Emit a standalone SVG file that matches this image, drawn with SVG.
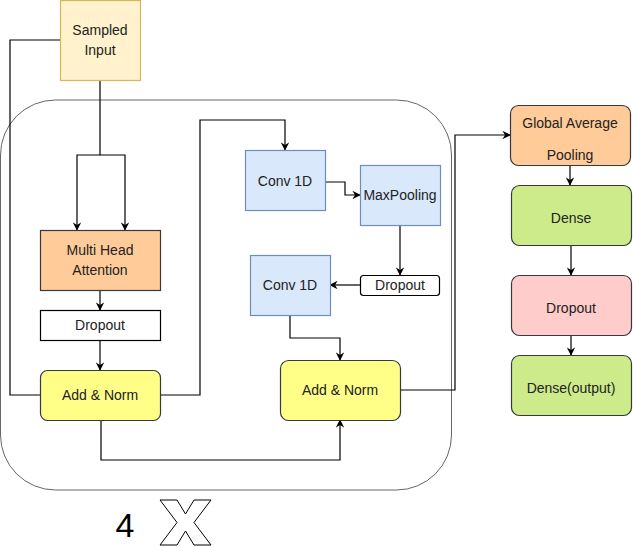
<svg xmlns="http://www.w3.org/2000/svg" width="633" height="547" viewBox="0 0 633 547">
<style>
text{font-family:"Liberation Sans",Arial,sans-serif;font-size:14px;fill:#222;text-anchor:middle;dominant-baseline:central}
.c{fill:none;stroke:#000;stroke-width:1.2}
.n{stroke-width:1.2}
</style>
<defs><marker id="a" viewBox="0 0 10 10" refX="9" refY="5" markerWidth="7" markerHeight="7" orient="auto"><path d="M0,0 L10,5 L0,10 L3,5 z" fill="#000"/></marker></defs>
<rect x="0.5" y="100" width="451" height="390" rx="55" fill="none" stroke="#666"/>
<g id="connectors">
<path class="c" d="M100,80 V155 H77 V230" marker-end="url(#a)"/>
<path class="c" d="M100,155 H125 V230" marker-end="url(#a)"/>
<path class="c" d="M60,40 H10 V395 H40"/>
<path class="c" d="M100,290 V310" marker-end="url(#a)"/>
<path class="c" d="M100,340 V370" marker-end="url(#a)"/>
<path class="c" d="M160,395 H200 V120 H285 V150" marker-end="url(#a)"/>
<path class="c" d="M101,420 V460 H340 V420" marker-end="url(#a)"/>
<path class="c" d="M325,182 H345 V195 H360" marker-end="url(#a)"/>
<path class="c" d="M400,225 V275" marker-end="url(#a)"/>
<path class="c" d="M360,285 H330" marker-end="url(#a)"/>
<path class="c" d="M290,315 V338 H340 V360" marker-end="url(#a)"/>
<path class="c" d="M400,390 H455 V135 H510" marker-end="url(#a)"/>
<path class="c" d="M570,165 V185" marker-end="url(#a)"/>
<path class="c" d="M571,245 V275" marker-end="url(#a)"/>
<path class="c" d="M571,335 V355" marker-end="url(#a)"/>
</g>
<g id="input"><rect class="n" x="60.5" y="0.5" width="80" height="80" fill="#fff2cc" stroke="#d6b656"/><text x="100" y="30">Sampled</text><text x="100" y="50">Input</text></g>
<g id="mha"><rect class="n" x="40.5" y="230.5" width="120" height="60" fill="#ffcc99" stroke="#36393d"/><text x="100" y="250">Multi Head</text><text x="100" y="270">Attention</text></g>
<g id="dropout1"><rect class="n" x="40.5" y="310.5" width="120" height="30" fill="#fff" stroke="#000"/><text x="100" y="325">Dropout</text></g>
<g id="addnorm1"><rect class="n" x="40.5" y="370.5" width="120" height="50" rx="7" fill="#ffff88" stroke="#36393d"/><text x="100" y="395">Add &amp; Norm</text></g>
<g id="conv1"><rect class="n" x="245.5" y="150.5" width="80" height="60" fill="#dae8fc" stroke="#6c8ebf"/><text x="285" y="181">Conv 1D</text></g>
<g id="maxpool"><rect class="n" x="360.5" y="165.5" width="80" height="60" fill="#dae8fc" stroke="#6c8ebf"/><text x="400" y="195">MaxPooling</text></g>
<g id="dropout2"><rect class="n" x="360.5" y="275.5" width="79" height="20" rx="3" fill="#fff" stroke="#000"/><text x="400" y="285">Dropout</text></g>
<g id="conv2"><rect class="n" x="250.5" y="255.5" width="80" height="60" fill="#dae8fc" stroke="#6c8ebf"/><text x="290" y="285">Conv 1D</text></g>
<g id="addnorm2"><rect class="n" x="280.5" y="360.5" width="120" height="60" rx="8" fill="#ffff88" stroke="#36393d"/><text x="340" y="390">Add &amp; Norm</text></g>
<g id="gap"><rect class="n" x="510.5" y="105.5" width="120" height="60" rx="8" fill="#ffcc99" stroke="#36393d"/><text x="570" y="123">Global Average</text><text x="570" y="155">Pooling</text></g>
<g id="dense"><rect class="n" x="511.5" y="185.5" width="120" height="60" rx="8" fill="#cdeb8b" stroke="#36393d"/><text x="571" y="218">Dense</text></g>
<g id="dropout3"><rect class="n" x="511.5" y="275.5" width="120" height="60" rx="8" fill="#ffcccc" stroke="#36393d"/><text x="571" y="308">Dropout</text></g>
<g id="denseout"><rect class="n" x="511.5" y="355.5" width="120" height="60" rx="8" fill="#cdeb8b" stroke="#36393d"/><text x="571" y="388">Dense(output)</text></g>
<g id="repeat"><text x="125" y="525" style="font-size:34px;fill:#000">4</text><polygon points="160,500 177,500 185.5,514 194,500 211,500 194,522.5 211,545 194,545 185.5,531 177,545 160,545 177,522.5" fill="#fff" stroke="#000" stroke-width="1"/></g>
</svg>
